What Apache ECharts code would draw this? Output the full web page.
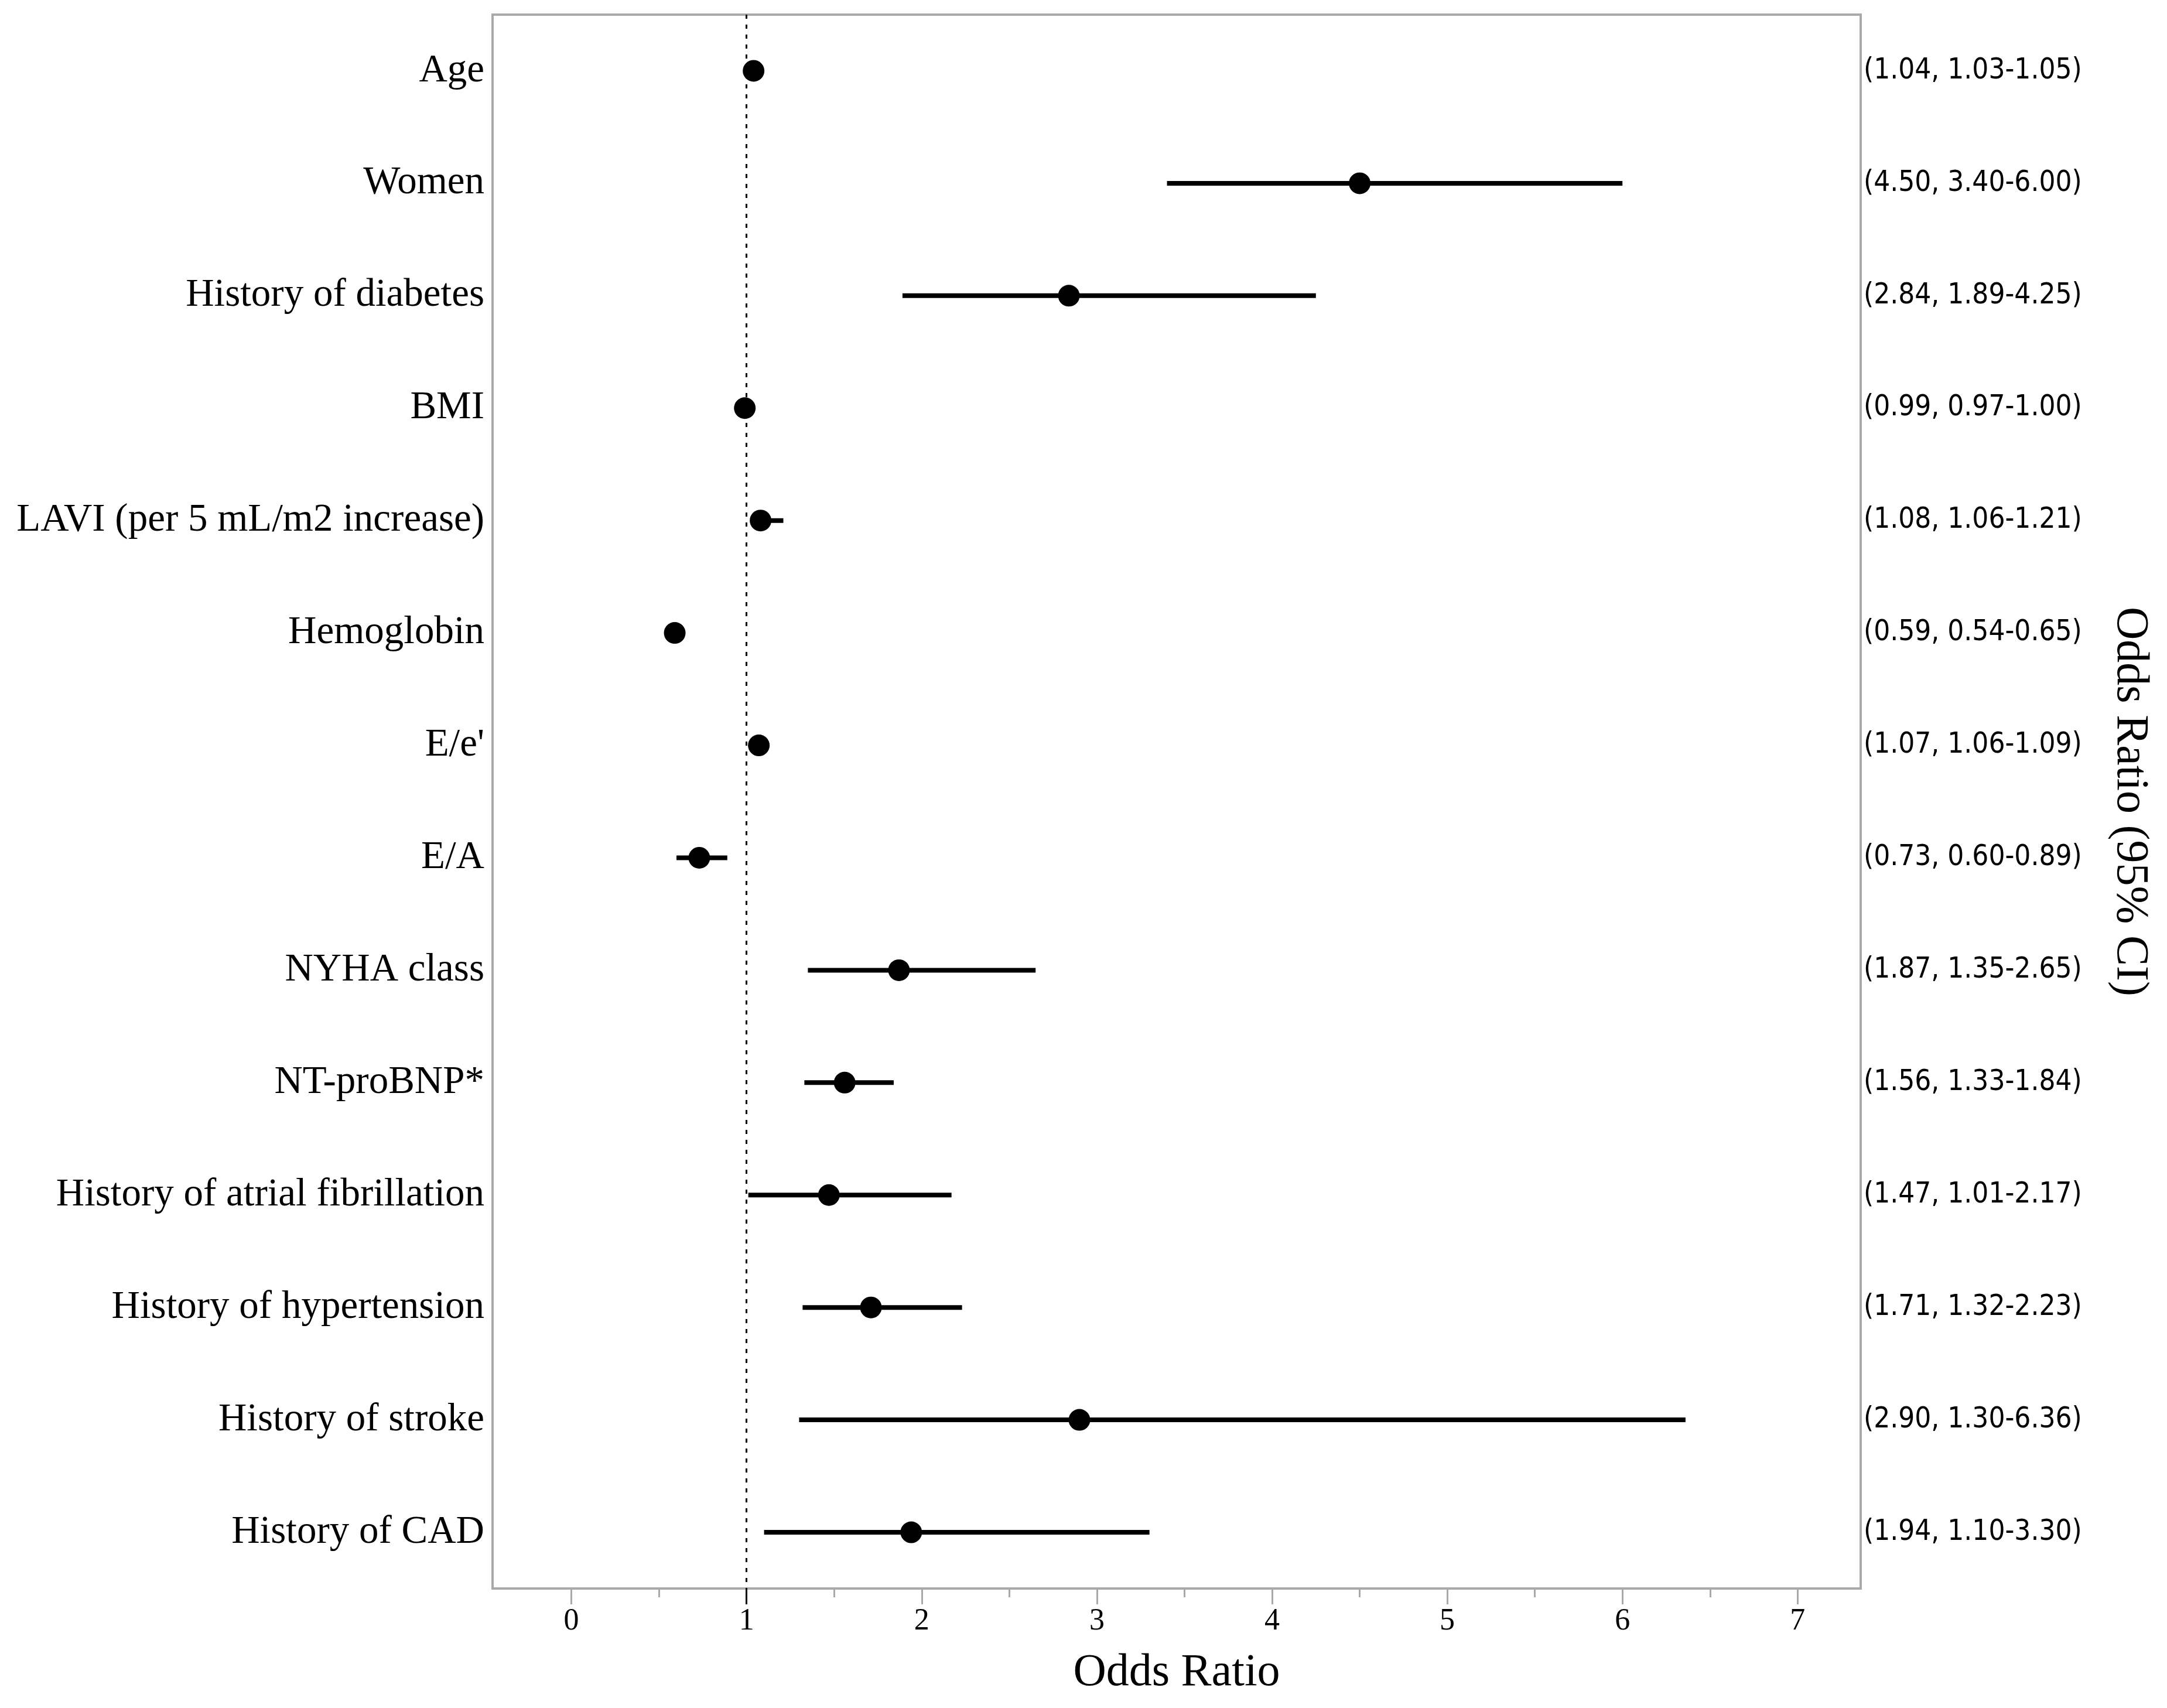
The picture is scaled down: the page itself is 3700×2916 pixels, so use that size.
<!DOCTYPE html>
<html>
<head>
<meta charset="utf-8">
<script src="https://cdn.jsdelivr.net/npm/echarts@6/dist/echarts.min.js"></script>
<style>
html,body{margin:0;padding:0;background:#fff;}
#chart{width:3700px;height:2916px;}
</style>
</head>
<body>
<div id="chart"></div>
<script>
// ---- data ----
const categories = ["Age", "Women", "History of diabetes", "BMI", "LAVI (per 5 mL/m2 increase)",
  "Hemoglobin", "E/e'", "E/A", "NYHA class", "NT-proBNP*", "History of atrial fibrillation",
  "History of hypertension", "History of stroke", "History of CAD"];
const oddsRatio = [1.04, 4.50, 2.84, 0.99, 1.08, 0.59, 1.07, 0.73, 1.87, 1.56, 1.47, 1.71, 2.90, 1.94];
const ciLow     = [1.03, 3.40, 1.89, 0.97, 1.06, 0.54, 1.06, 0.60, 1.35, 1.33, 1.01, 1.32, 1.30, 1.10];
const ciHigh    = [1.05, 6.00, 4.25, 1.00, 1.21, 0.65, 1.09, 0.89, 2.65, 1.84, 2.17, 2.23, 6.36, 3.30];
const xTickValues = [0, 1, 2, 3, 4, 5, 6, 7];
const xMinorTickValues = [0.5, 1.5, 2.5, 3.5, 4.5, 5.5, 6.5];
const refValue = 1;
const xMin = -0.45, xMax = 7.36;

// ---- font choice for the right-hand labels (narrow sans) ----
function measure(font, txt) {
  const c = document.createElement('canvas').getContext('2d');
  c.font = font; return c.measureText(txt).width;
}
function hasFont(name) {
  const t = '(1.04, 1.03-1.05)';
  return measure('50px monospace', t) !== measure('50px "' + name + '", monospace', t);
}
let rightFamily = 'DejaVu Sans';
if (hasFont('Liberation Sans Narrow')) rightFamily = 'Liberation Sans Narrow';
else if (hasFont('DejaVu Sans Condensed')) rightFamily = 'DejaVu Sans Condensed';
const wAt50 = measure('50px "' + rightFamily + '"', '(1.04, 1.03-1.05)');
const rightSize = Math.min(50, Math.round(50 * 376 / wAt50));

const rightLabels = categories.map((c, i) =>
  '(' + oddsRatio[i].toFixed(2) + ', ' + ciLow[i].toFixed(2) + '-' + ciHigh[i].toFixed(2) + ')');

const serif = '"Liberation Serif", "Times New Roman", serif';
const frameGray = '#a9a9a9';

const chart = echarts.init(document.getElementById('chart'), null, {renderer: 'canvas'});

// one short line series per row for the confidence interval
const ciSeries = categories.map((c, i) => ({
  type: 'line', xAxisIndex: 0, yAxisIndex: 0, z: 2,
  symbol: 'none', silent: true,
  lineStyle: {color: '#000', width: 8, cap: 'butt', opacity: 1},
  data: [[ciLow[i], c], [ciHigh[i], c]]
}));

const option = {
  backgroundColor: '#ffffff',
  animation: false,
  grid: {
    left: 841, right: 523, top: 25, bottom: 204,
    show: true, borderColor: frameGray, borderWidth: 4, backgroundColor: 'transparent'
  },
  xAxis: [
    {
      type: 'value', min: xMin, max: xMax, position: 'bottom',
      name: 'Odds Ratio', nameLocation: 'middle', nameGap: 106,
      nameTextStyle: {fontFamily: serif, fontSize: 78, color: '#000'},
      axisLine: {show: true, lineStyle: {color: frameGray, width: 4}},
      axisTick: {show: true, customValues: xTickValues, length: 27, lineStyle: {color: frameGray, width: 3}},
      axisLabel: {show: true, customValues: xTickValues, margin: 30, fontFamily: serif, fontSize: 52, color: '#000'},
      splitLine: {show: false}
    },
    {
      type: 'value', min: xMin, max: xMax, position: 'bottom',
      axisLine: {show: false},
      axisTick: {show: true, customValues: xMinorTickValues, length: 15, lineStyle: {color: frameGray, width: 3}},
      axisLabel: {show: false},
      splitLine: {show: false}
    },
    {
      type: 'value', min: xMin, max: xMax, position: 'bottom',
      axisLine: {show: false},
      axisTick: {show: true, customValues: [refValue], length: 27, lineStyle: {color: '#000', width: 3}},
      axisLabel: {show: false},
      splitLine: {show: false}
    }
  ],
  yAxis: [
    {
      type: 'category', data: categories, inverse: true, position: 'left',
      axisLine: {show: false}, axisTick: {show: false}, splitLine: {show: false},
      axisLabel: {margin: 14, fontFamily: serif, fontSize: 67, color: '#000', interval: 0}
    },
    {
      type: 'category', data: categories, inverse: true, position: 'right',
      name: 'Odds Ratio (95% CI)', nameLocation: 'middle', nameRotate: -90, nameGap: 420,
      nameTextStyle: {fontFamily: serif, fontSize: 78, color: '#000'},
      axisLine: {show: false}, axisTick: {show: false}, splitLine: {show: false},
      axisLabel: {
        margin: 5, interval: 0, fontFamily: '"' + rightFamily + '", sans-serif', fontSize: rightSize, color: '#000',
        formatter: (v, i) => rightLabels[i]
      }
    }
  ],
  series: ciSeries.concat([
    {
      type: 'scatter', xAxisIndex: 0, yAxisIndex: 0, z: 5,
      symbol: 'circle', symbolSize: 37,
      itemStyle: {color: '#000', opacity: 1},
      data: categories.map((c, i) => [oddsRatio[i], c]),
      markLine: {
        silent: true, symbol: 'none', label: {show: false}, z: 1,
        lineStyle: {color: '#000', width: 3, type: [7, 10], opacity: 1},
        data: [{xAxis: refValue}]
      }
    }
  ])
};
chart.setOption(option);
</script>
</body>
</html>
